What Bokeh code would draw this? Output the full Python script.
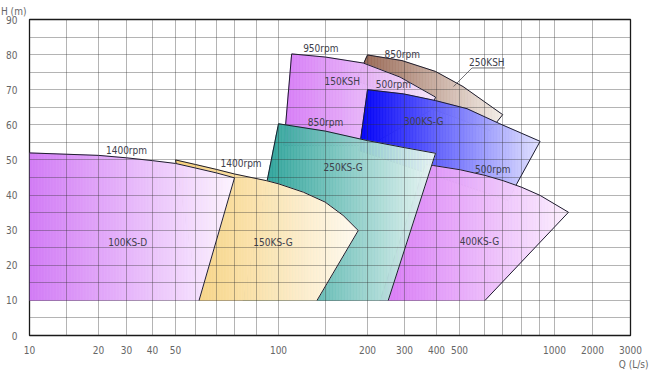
import numpy as np
from bokeh.plotting import figure
from bokeh.models import FixedTicker, Title, ColumnDataSource, CustomJSTickFormatter
from bokeh.core.properties import value
from bokeh.embed import file_html
from bokeh.resources import INLINE

FONT = "DejaVu Sans Condensed, Liberation Sans Narrow, Roboto Condensed, Liberation Sans"

# ---- axis definition (the chart's Q axis is a hand-drawn, non-uniform scale) ----
Q_GRID = [10, 15, 20, 30, 40, 50, 60, 70, 80, 90, 100, 150, 200, 300, 400, 500,
          600, 700, 800, 900, 1000, 2000, 3000]
Q_AXIS = [0, 37, 69, 97, 123, 146, 166, 187, 205, 227, 249, 296, 338, 375, 407, 430,
          455, 473, 492, 510, 525, 563, 601]
Q_LABELS = [10, 20, 30, 40, 50, 100, 200, 300, 400, 500, 1000, 2000, 3000]
H_TICKS = list(range(0, 91, 10))
H_GRID = list(range(0, 91, 5))

# ---- pump regions (Q in L/s, H in m), in drawing order ----
KSH250_Q = [200, 293, 397, 514, 701, 631, 186]
KSH250_H = [79.9, 78.3, 75.2, 70.9, 62.9, 58.4, 72.6]
KSH150_Q = [114, 150, 195, 288, 397, 381, 206, 105.7]
KSH150_H = [80.2, 79.3, 77.6, 73.6, 67.9, 64.1, 54.1, 54.1]
KSG300_Q = [200, 298, 397, 530, 685, 904, 775, 731, 190]
KSG300_H = [70.0, 68.8, 66.9, 64.6, 60.3, 55.3, 43.2, 38.5, 52.7]
KSG400_Q = [365, 391, 503, 603, 703, 802, 904, 1368, 603, 234]
KSG400_H = [48.7, 48.4, 47.2, 45.6, 44.1, 42.2, 39.9, 35.1, 10, 10]
KSG250_Q = [100, 150, 200, 300, 397, 256, 84]
KSG250_H = [60.3, 58.2, 55.5, 53.5, 51.9, 10, 10]
KSG150_Q = [50, 60, 70, 80, 94.5, 100, 126.6, 149.6, 171, 189, 141, 61.7]
KSG150_H = [50.0, 48.7, 47.3, 46.0, 44.1, 43.2, 40.8, 38.0, 34.2, 29.9, 10, 10]
KSD100_Q = [10, 20, 30, 40, 50, 60, 70, 80, 61.7, 10]
KSD100_H = [52.0, 51.3, 50.6, 49.8, 49.0, 47.7, 46.3, 44.9, 10, 10]

REGIONS = [
    (KSH250_Q, KSH250_H, "#93604c", "#f4eee8"),
    (KSH150_Q, KSH150_H, "#d67cf6", "#f6e6fa"),
    (KSG300_Q, KSG300_H, "#0000f8", "#e2e2ff"),
    (KSG400_Q, KSG400_H, "#d878f6", "#fcf0fe"),
    (KSG250_Q, KSG250_H, "#14988e", "#eaf6f4"),
    (KSG150_Q, KSG150_H, "#f6d07a", "#fffaf0"),
    (KSD100_Q, KSD100_H, "#d27cf5", "#fcf4ff"),
]

# ---- texts ----
LABEL_TEXT = ["1400rpm", "100KS-D", "1400rpm", "150KS-G", "250KS-G", "850rpm",
              "300KS-G", "500rpm", "150KSH", "950rpm", "850rpm", "250KSH",
              "500rpm", "400KS-G"]
LABEL_Q = [30, 30.5, 83, 97.5, 171, 150, 360, 270, 170, 145, 294, 613, 646, 580]
LABEL_H = [52.6, 26.6, 48.9, 26.6, 47.8, 60.8, 61.0, 71.4, 72.4, 81.6, 79.9, 77.8, 47.2, 26.9]
LEADER_Q = [474, 550, 712]
LEADER_H = [70.9, 76.2, 76.2]


def qpos(q):
    return np.interp(q, Q_GRID, Q_AXIS)


def hex2rgb(h):
    h = h.lstrip("#")
    return np.array([int(h[i:i + 2], 16) for i in (0, 2, 4)], dtype=float)


def clip_half(pts, inside, inter):
    out = []
    n = len(pts)
    for i in range(n):
        cur, prev = pts[i], pts[i - 1]
        if inside(cur):
            if not inside(prev):
                out.append(inter(prev, cur))
            out.append(cur)
        elif inside(prev):
            out.append(inter(prev, cur))
    return out


def xcut(xc):
    def f(a, b):
        t = (xc - a[0]) / (b[0] - a[0])
        return (xc, a[1] + t * (b[1] - a[1]))
    return f


def strip(pts, x0, x1):
    pts = clip_half(pts, lambda p: p[0] >= x0, xcut(x0))
    if pts:
        pts = clip_half(pts, lambda p: p[0] <= x1, xcut(x1))
    return pts


p = figure(width=650, height=372, x_range=(0, 601), y_range=(0, 90),
           output_backend="svg", toolbar_location=None,
           min_border_left=29, min_border_right=20, min_border_top=19,
           min_border_bottom=37)
p.background_fill_color = "white"
p.border_fill_color = "white"
p.outline_line_color = "#1a1a1a"
p.outline_line_width = 1.3

for qs, hs, c0, c1 in REGIONS:
    xs = list(qpos(qs))
    pts = list(zip(xs, hs))
    xmin, xmax = min(xs), max(xs)
    a, b = hex2rgb(c0), hex2rgb(c1)
    sx, sy, cols = [], [], []
    step = 1.5
    x = xmin
    while x < xmax:
        seg = strip(pts, x, min(x + step, xmax))
        if len(seg) >= 3:
            t = ((x + step / 2) - xmin) / (xmax - xmin)
            t = min(max(t, 0), 1)
            c = a * (1 - t) + b * t
            cols.append("#%02x%02x%02x" % tuple(int(round(v)) for v in c))
            sx.append([s[0] for s in seg])
            sy.append([s[1] for s in seg])
        x += step
    p.patches(sx, sy, fill_color=cols, line_color=cols, line_width=0.7)
    # outline (no line along the H = 10 floor)
    lx, ly = [], []
    n = len(pts)
    for i in range(n):
        a0, b0 = pts[i], pts[(i + 1) % n]
        if a0[1] == 10 and b0[1] == 10:
            continue
        lx.append([a0[0], b0[0]])
        ly.append([a0[1], b0[1]])
    p.multi_line(lx, ly, line_color="#1e1e2e", line_width=1)

p.line(qpos(LEADER_Q), LEADER_H, line_color="#505058", line_width=0.8)

src = ColumnDataSource(dict(x=qpos(LABEL_Q), y=LABEL_H, t=LABEL_TEXT))
p.text("x", "y", text="t", source=src, text_font=value(FONT),
       text_font_size="10px", text_color="#40404c", text_align="center",
       text_baseline="middle")

# grid drawn over the coloured areas, as in the drawing
grid_pos = [float(v) for v in qpos(Q_GRID)]
p.xgrid.ticker = FixedTicker(ticks=grid_pos)
p.ygrid.ticker = FixedTicker(ticks=H_GRID)
p.grid.grid_line_color = "#303030"
p.grid.grid_line_alpha = 0.36
p.grid.grid_line_width = 1
p.grid.level = "overlay"

lab_pos = [float(v) for v in qpos(Q_LABELS)]
p.xaxis.ticker = FixedTicker(ticks=lab_pos)
p.xaxis.formatter = CustomJSTickFormatter(
    args=dict(pos=lab_pos, lab=[str(v) for v in Q_LABELS]),
    code="let best=-1, d=1e9; for (let i=0;i<pos.length;i++){const e=Math.abs(pos[i]-tick); if(e<d){d=e;best=i;}} return d<0.01 ? lab[best] : '';")
p.yaxis.ticker = FixedTicker(ticks=H_TICKS)
for ax in (p.xaxis, p.yaxis):
    ax.axis_line_color = None
    ax.major_tick_line_color = None
    ax.minor_tick_line_color = None
    ax.major_tick_out = 0
    ax.major_tick_in = 0
    ax.major_label_text_font = FONT
    ax.major_label_text_font_size = "10px"
    ax.major_label_text_color = "#666666"
p.yaxis.major_label_standoff = 12
p.xaxis.major_label_standoff = 10

# axis titles
p.title.text = "H (m)"
p.title.align = "left"
p.title.offset = -28.5
p.title.standoff = 5
p.title.text_font = FONT
p.title.text_font_size = "10px"
p.title.text_font_style = "normal"
p.title.text_color = "#666666"
p.add_layout(Title(text="Q (L/s)", align="right", offset=-18, standoff=0,
                   text_font=FONT, text_font_size="10px", text_font_style="normal",
                   text_color="#666666"), "below")

open("out.html", "w").write(file_html(p, INLINE))
